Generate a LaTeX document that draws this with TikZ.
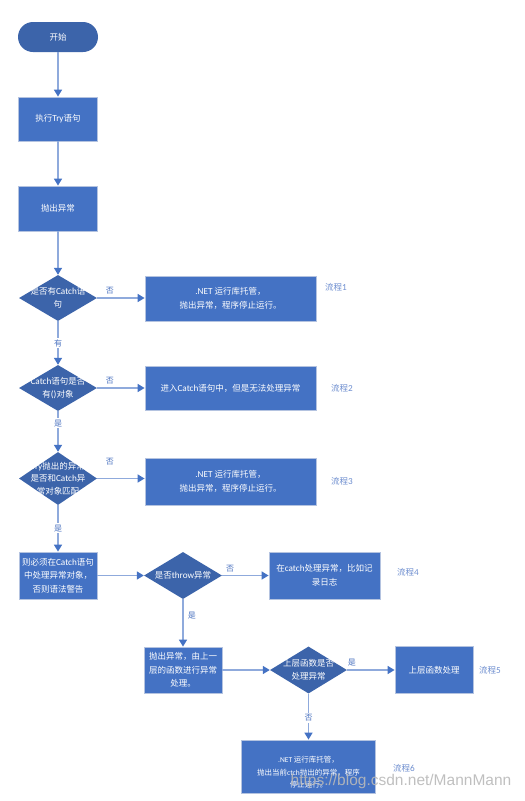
\documentclass[tikz,border=0pt]{standalone}
\usepackage{fontspec}
\setmainfont{Noto Sans CJK SC}
\newfontfamily\wmfont{Liberation Sans}
\newfontfamily\latf{Carlito}
\newcommand\La[1]{{\latf\fontsize{9.2}{12}\selectfont #1}}
\usetikzlibrary{shapes.geometric,arrows.meta}
\definecolor{boxc}{HTML}{4472C4}
\definecolor{diac}{HTML}{3C64AA}
\definecolor{bordc}{HTML}{B4C3E0}
\definecolor{linec}{HTML}{8FAADC}
\definecolor{labc}{HTML}{4A72C0}
\definecolor{flowc}{HTML}{6F8FD0}
\begin{document}
\begin{tikzpicture}[x=1pt,y=-1pt,
  box/.style={rectangle, fill=boxc, draw=bordc, line width=0.8pt, text=white,
    font=\fontsize{8.5}{13.5}\selectfont, align=center, inner sep=0pt},
  dia/.style={diamond, fill=diac, draw=none, inner sep=0pt,
    minimum width=78pt, minimum height=46pt},
  dtext/.style={text=white, font=\fontsize{8.5}{12.5}\selectfont, align=center, inner sep=0pt},
  rtext/.style={text=white, font=\fontsize{7.5}{12.5}\selectfont, align=center, inner sep=0pt},
  conn/.style={draw=linec, line width=1.5pt, -{Triangle[width=8pt,length=7pt,color=boxc]}},
  lab/.style={text=labc, font=\fontsize{8}{10}\selectfont, inner sep=1pt},
  onl/.style={lab, fill=white, inner sep=1.5pt},
  flow/.style={text=flowc, font=\fontsize{8.5}{10}\selectfont, inner sep=0pt}
]
\useasboundingbox[fill=white] (0,0) rectangle (525,801);

% main column
\node[rectangle, rounded corners=15pt, fill=diac, minimum width=80pt, minimum height=30pt,
  text=white, font=\fontsize{8.5}{10}\selectfont, inner sep=0pt] (start) at (58,37) {开始};
\node[box, minimum width=79pt, minimum height=44pt] (try) at (58,119) {执行\La{Try}语句};
\node[box, minimum width=79pt, minimum height=45pt] (thr) at (58,208.5) {抛出异常};
\node[dia, label={[dtext]center:{是否有\La{Catch}语\\句}}] (d1) at (58,298) {};
\node[dia, label={[dtext]center:{\La{Catch}语句是否\\有\La{()}对象}}] (d2) at (58,388) {};
\node[dia, minimum height=53pt, label={[dtext]center:{\La{Try}抛出的异常\\是否和\La{Catch}异\\常对象匹配}}] (d3) at (58,478.5) {};
\node[box, minimum width=78pt, minimum height=47pt] (must) at (58,575.5) {则必须在\La{Catch}语句\\中处理异常对象，\\否则语法警告};

% right column boxes
\node[box, minimum width=171pt, minimum height=45pt] (r1) at (230.5,298.5) {\La{.NET} 运行库托管，\\抛出异常，程序停止运行。};
\node[box, minimum width=171pt, minimum height=44pt] (r2) at (230.5,388) {进入\La{Catch}语句中，但是无法处理异常};
\node[box, minimum width=171pt, minimum height=47pt] (r3) at (230.5,481.5) {\La{.NET} 运行库托管，\\抛出异常，程序停止运行。};

\node[dia, minimum height=47pt, label={[dtext]center:{是否\La{throw}异常}}] (d4) at (183,575.5) {};
\node[box, minimum width=111pt, minimum height=47pt] (r4) at (324.5,575.5) {在\La{catch}处理异常，比如记\\录日志};
\node[box, minimum width=78pt, minimum height=46pt] (up) at (183,670) {抛出异常，由上一\\层的函数进行异常\\处理。};
\node[dia, minimum width=77pt, minimum height=47pt, label={[dtext]center:{上层函数是否\\处理异常}}] (d5) at (308.5,670) {};
\node[box, minimum width=78pt, minimum height=47pt] (r5) at (434,670) {上层函数处理};
\node[box, minimum width=134pt, minimum height=53pt,
  label={[rtext, yshift=-6pt]center:{{\latf .NET} 运行库托管，\\抛出当前{\latf ctch}抛出的异常，程序\\停止运行。}}] (r6) at (308.5,766.5) {};

% flow labels
\node[flow] (f1) at (336,287) {流程\La{1}};
\node[flow] (f2) at (342,388) {流程\La{2}};
\node[flow] (f3) at (342,481) {流程\La{3}};
\node[flow] (f4) at (408,572) {流程\La{4}};
\node[flow] (f5) at (490,670) {流程\La{5}};
\node[flow] (f6) at (404,768) {流程\La{6}};

% connectors
\draw[conn] (start) -- (try);
\draw[conn] (try) -- (thr);
\draw[conn] (thr) -- (d1);
\draw[conn] (d1.east) -- node[lab, above=2pt, pos=0.27] {否} (d1.east -| r1.west);
\draw[conn] (d1) -- node[onl, pos=0.5] {有} (d2);
\draw[conn] (d2.east) -- node[lab, above=2pt, pos=0.27] {否} (d2.east -| r2.west);
\draw[conn] (d2) -- node[onl, pos=0.3] {是} (d3);
\draw[conn] (d3.east) -- node[lab, above=12pt, pos=0.27] {否} (d3.east -| r3.west);
\draw[conn] (d3) -- node[onl, pos=0.5] {是} (must);
\draw[conn] (must) -- (d4);
\draw[conn] (d4) -- node[lab, above=2pt, pos=0.17] {否} (r4);
\draw[conn] (d4) -- node[lab, right=3pt, pos=0.35] {是} (up);
\draw[conn] (up) -- (d5);
\draw[conn] (d5) -- node[lab, above=2pt, pos=0.1] {是} (r5);
\draw[conn] (d5) -- node[onl, pos=0.53] {否} (r6);

% watermark
\node[text=gray!55, opacity=0.9, font=\wmfont\fontsize{15.5}{16}\selectfont, inner sep=0pt] (wm) at (401,781) {https://blog.csdn.net/MannMann};
\end{tikzpicture}
\end{document}
